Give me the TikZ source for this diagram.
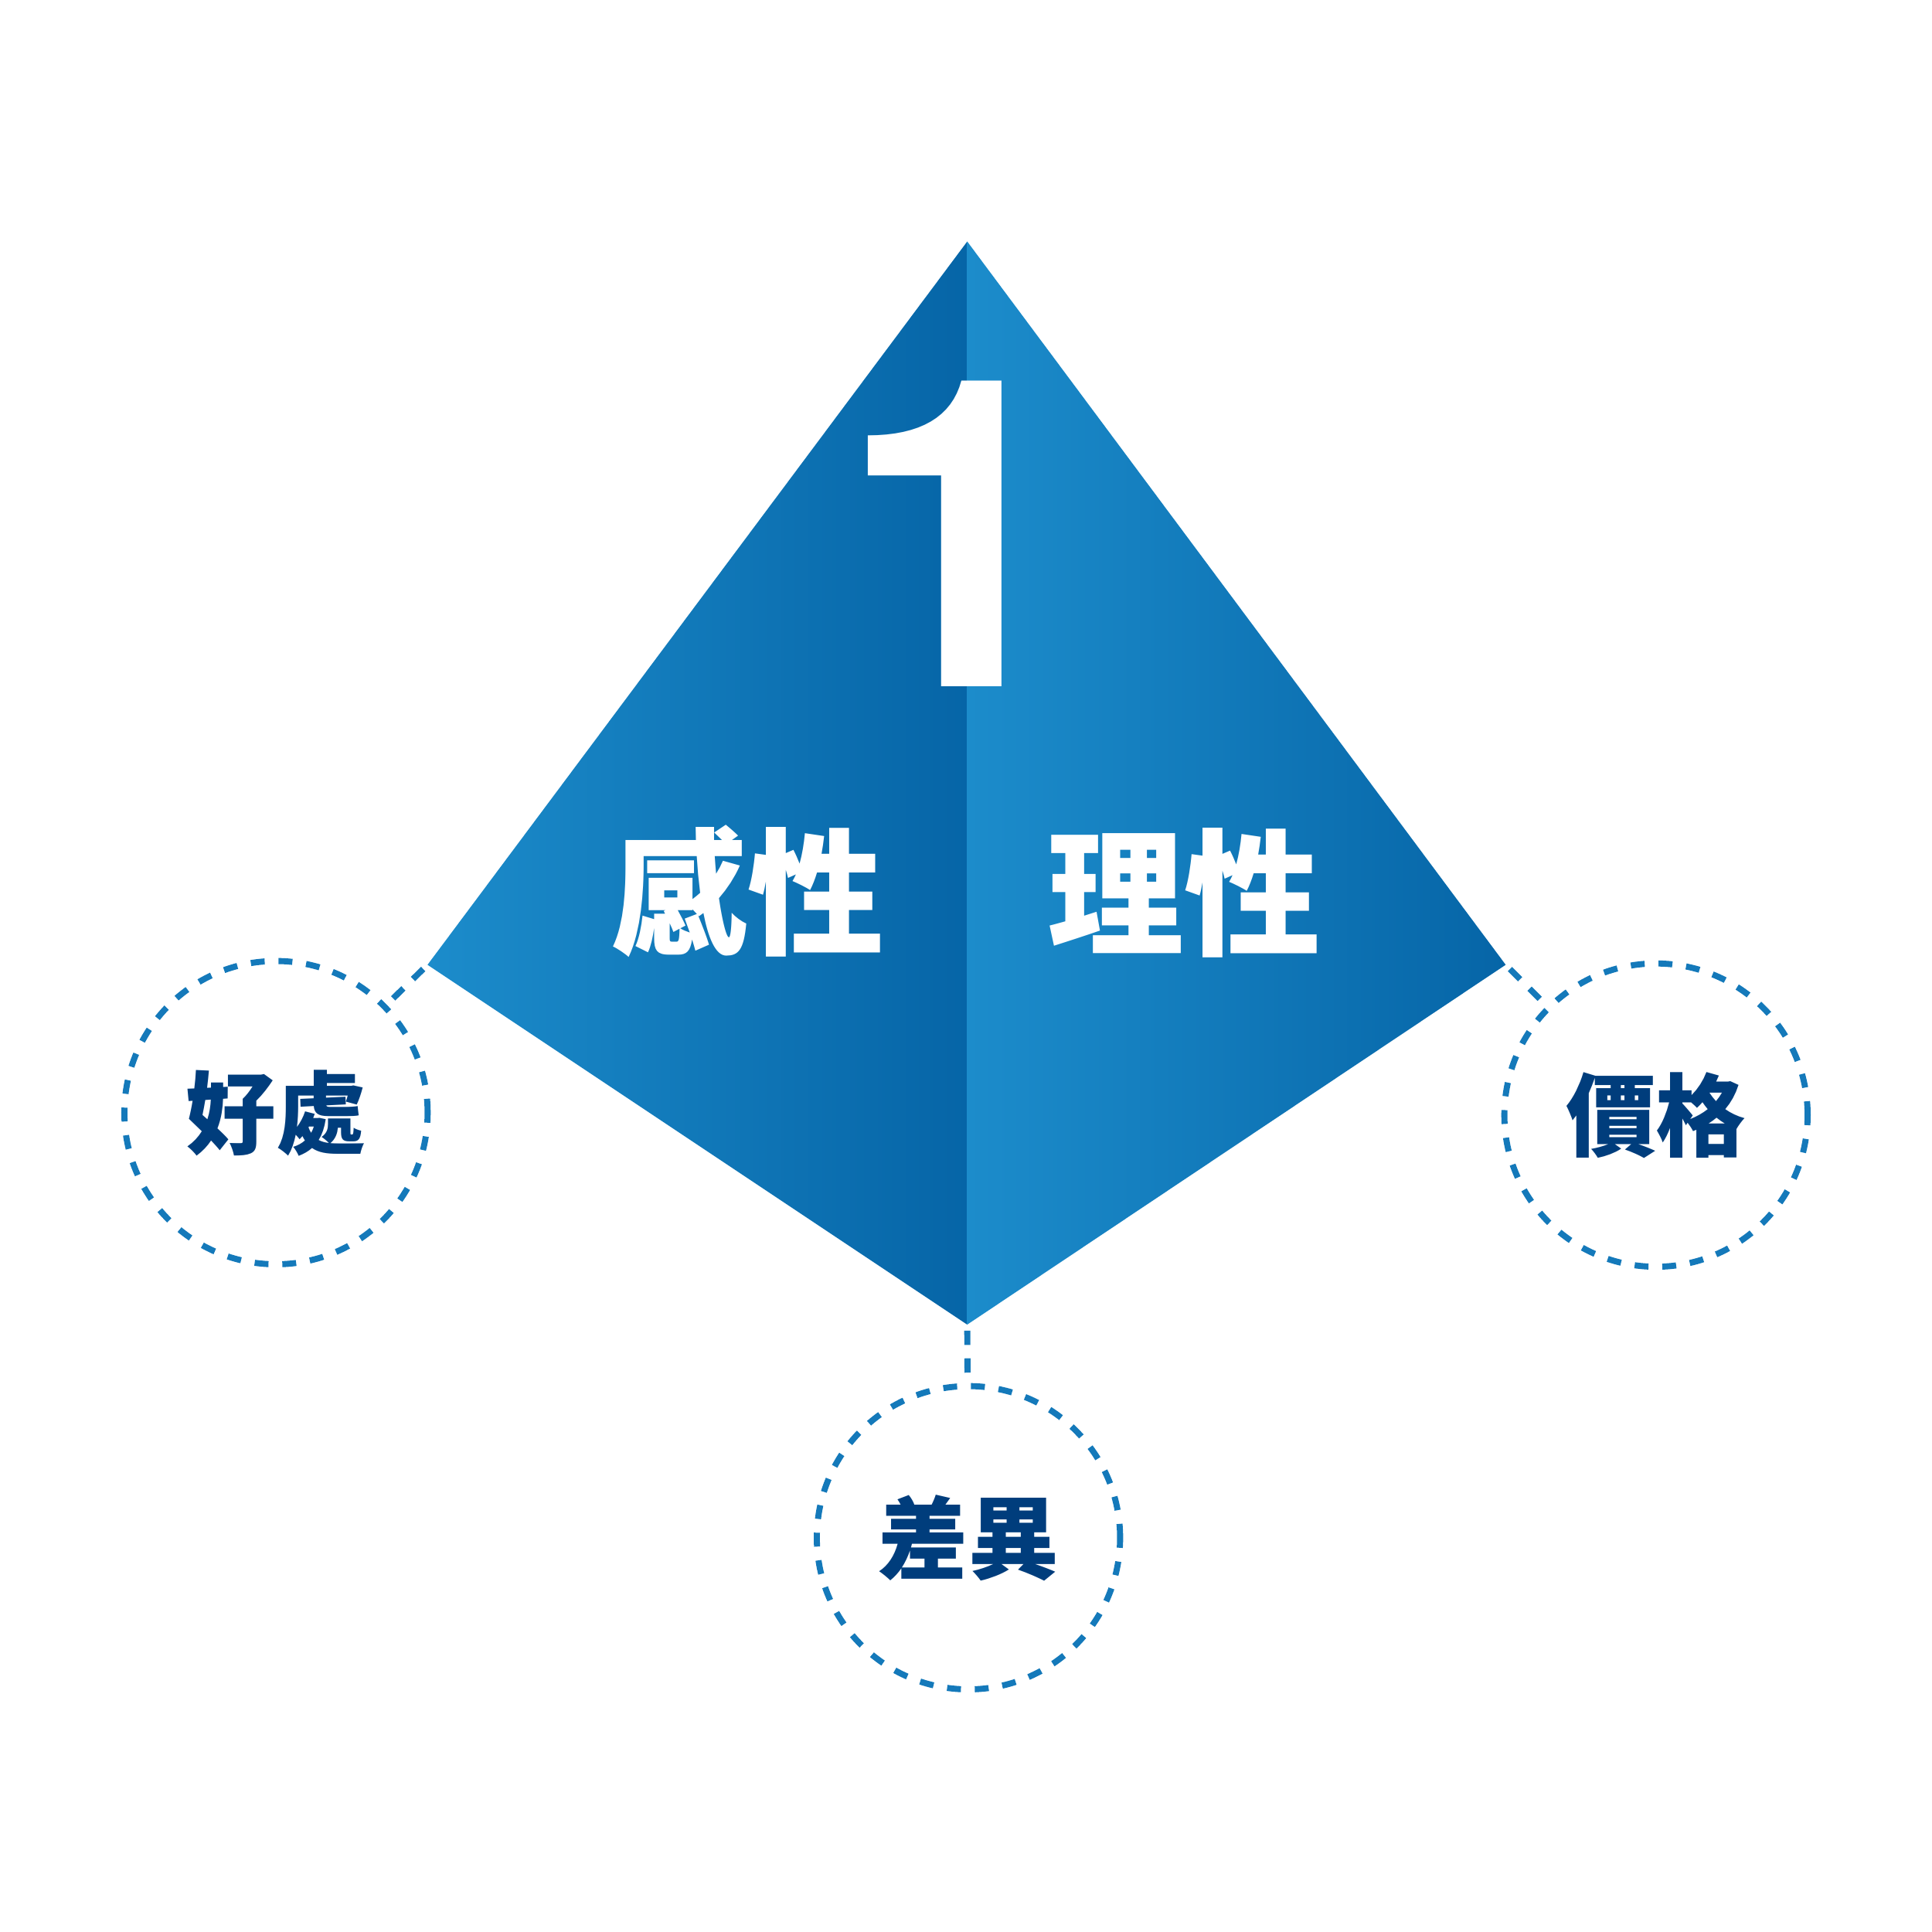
\documentclass[tikz,border=0pt]{standalone}
\usepackage{fontspec}
\newfontfamily\cjkfont{Noto Sans CJK TC}
\newfontfamily\numfont{TeX Gyre Heros}
\definecolor{lightblue}{HTML}{1C8CCB}
\definecolor{darkblue}{HTML}{0665A7}
\definecolor{dashblue}{HTML}{1479BA}
\definecolor{navy}{HTML}{003D7C}
\usetikzlibrary{positioning}
\tikzstyle{base}=[x=0.01cm, y=-0.01cm]
\tikzstyle{facet}=[left color=lightblue, right color=darkblue]
\tikzstyle{facetlabel}=[white, inner sep=0pt, font=\cjkfont\bfseries\fontsize{31.5}{31.5}\selectfont, text height=26.1pt, text depth=2.2pt]
\tikzstyle{bubble}=[circle, draw=dashblue, line width=1.4pt, dash pattern=on 3.2pt off 3.2pt, minimum size=2.46cm, inner sep=0pt, text=navy, font=\cjkfont\bfseries\fontsize{20.8}{20.8}\selectfont, text height=17.3pt, text depth=1.5pt]
\tikzstyle{link}=[dashblue, line width=1.4pt, dash pattern=on 3.3pt off 3.1pt, dash phase=5pt]

\begin{document}
\begin{tikzpicture}[base]
    \useasboundingbox (0,0) rectangle (1568,1568);
        \coordinate (apex) at (785,196);
        \coordinate (west) at (347,783);
        \coordinate (east) at (1222,783);
        \coordinate (south) at (785,1075);
        \shade [facet] (west) -- (apex) -- (south) -- cycle;
        \shade [facet] (apex) -- (east) -- (south) -- cycle;
        \node [white, inner sep=0pt, anchor=base, font=\numfont\bfseries\fontsize{99.5}{99.5}\selectfont] (one) at (778,557) {1};
        \node [facetlabel] (ganxing) at (607,724) {感性};
        \node [facetlabel] (lixing) at (961,725) {理性};
        \node [bubble] (haochu) at (224,903) {好處};
        \node [bubble] (jiage) at (1344,905) {價格};
        \node [bubble] (chayi) at (786,1248) {差異};
        \draw [link] (west) -- (haochu);
        \draw [link] (east) -- (jiage);
        \draw [link] (south) -- (chayi);
    \end{tikzpicture}
\end{document}
